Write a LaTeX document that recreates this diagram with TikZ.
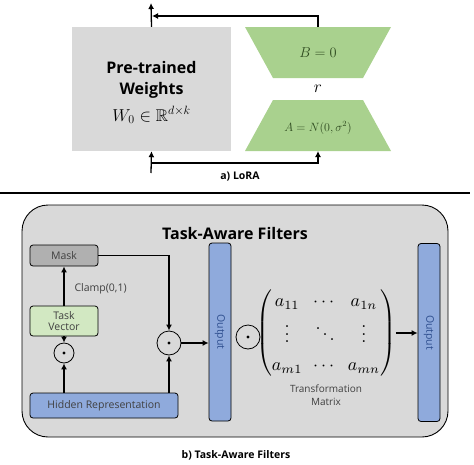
\documentclass[tikz,border=0pt]{standalone}
\usepackage{amsmath,amssymb}
\usepackage{fontspec}
\usepackage{tikz}
\usetikzlibrary{arrows.meta}
\newfontfamily\osans{Open Sans}
\definecolor{panelgray}{HTML}{D9D9D9}
\definecolor{maskgray}{HTML}{B0B0B0}
\definecolor{lgreen}{HTML}{A9D18E}
\definecolor{tvgreen}{HTML}{D2E8C2}
\definecolor{hblue}{HTML}{8FAADC}
\definecolor{oblue}{HTML}{2F4F8F}
\definecolor{dgreen}{HTML}{2E4A1F}
\definecolor{txtgray}{HTML}{404040}

\begin{document}
\begin{tikzpicture}[x=1pt,y=-1pt,
	arr/.style={-{Latex[length=6pt,width=6pt]},line width=1.3pt},
	box/.style={draw=black,line width=0.8pt,rounded corners=3pt,inner sep=0pt,font=\osans\fontsize{10.5}{12}\selectfont,text=txtgray,align=center},
	outbar/.style={box,fill=hblue,minimum width=22pt,minimum height=178pt},
	odotnode/.style={shape=circle,draw=black,line width=0.8pt,inner sep=0pt,minimum size=#1,
		path picture={\fill (path picture bounding box.center) circle (1.6pt);}}]
	\useasboundingbox (0,0) rectangle (474,464);
	% a) LoRA
	\node[fill=panelgray,minimum width=159pt,minimum height=124pt,inner sep=0pt] (pw) at (151.5,89) {};
	\node[font=\osans\bfseries\fontsize{16}{18}\selectfont] (pwtxt) at (151.5,67) {Pre-trained};
	\node[font=\osans\bfseries\fontsize{16}{18}\selectfont] (pwtxt2) at (151.5,90) {Weights};
	\node[font=\fontsize{17}{20}\selectfont] (w0) at (151.5,115) {$W_0\in\mathbb{R}^{d\times k}$};
	\fill[lgreen] (245,27) -- (391,27) -- (363,78) -- (273,78) -- cycle;
	\fill[lgreen] (273,100) -- (363,100) -- (391,151) -- (245,151) -- cycle;
	\node[text=dgreen,font=\fontsize{15}{18}\selectfont] (B) at (318,53) {$B=0$};
	\node[font=\fontsize{16}{18}\selectfont] (r) at (318,89) {$r$};
	\node[text=dgreen,font=\fontsize{12}{14}\selectfont] (A) at (318,128) {$A=N(0,\sigma^2)$};
	\coordinate (Btop) at (318,27);
	\coordinate (Abot) at (318,151);
	\coordinate (outtop) at (151,3);
	\coordinate (merge) at (151,16);
	\coordinate (intop) at (151,173);
	\coordinate (split) at (151,163);
	\draw[arr] (pw.north) -- (outtop);
	\draw[arr,shorten >=1pt] (Btop) |- (merge);
	\draw[arr] (intop) -- (pw.south);
	\draw[arr] (split) -| (Abot);
	\node[font=\osans\bfseries\fontsize{10.5}{12}\selectfont] (capa) at (240,177) {a) LoRA};
	\coordinate (sepl) at (0,193);
	\coordinate (sepr) at (470,193);
	\draw[line width=2.5pt] (sepl) -- (sepr);
	% b) Task-Aware Filters
	\node[draw=black,line width=0.9pt,fill=panelgray,rounded corners=26pt,minimum width=426pt,minimum height=232pt] (panel) at (235,321) {};
	\node[font=\osans\bfseries\fontsize{16}{18}\selectfont] (title) at (235,233) {Task-Aware Filters};
	\node[box,fill=maskgray,minimum width=68pt,minimum height=21pt] (mask) at (64,255.5) {Mask};
	\node[box,fill=tvgreen,minimum width=68pt,minimum height=30pt,font=\osans\fontsize{10.5}{11.5}\selectfont] (tv) at (64,321) {Task\\Vector};
	\node[box,fill=hblue,minimum width=148pt,minimum height=25pt] (hid) at (104,405.5) {Hidden Representation};
	\node[odotnode=20pt] (od1) at (64,353) {};
	\node[odotnode=24pt] (od2) at (169,343) {};
	\node[outbar,text=oblue] (out1) at (220,332) {\rotatebox{-90}{Output}};
	\node[odotnode=24pt] (od3) at (248,337) {};
	\node[inner sep=0pt] (mat) at (326,333) {\setlength\arraycolsep{3pt}\renewcommand\arraystretch{1.3}\scalebox{1.8}{$\begin{pmatrix} a_{11} & \cdots & a_{1n}\\ \vdots & \ddots & \vdots\\ a_{m1} & \cdots & a_{mn}\end{pmatrix}$}};
	\node[font=\osans\fontsize{10}{13.5}\selectfont,text=txtgray,align=center] (matlbl) at (326,395) {Transformation\\Matrix};
	\node[outbar,text=oblue] (out2) at (429,332.5) {\rotatebox{-90}{Output}};
	\node[font=\osans\fontsize{10.5}{12}\selectfont,text=txtgray,anchor=west] (clamp) at (71,289) {Clamp(0,1)};
	\draw[arr] (tv.north) -- (mask.south);
	\draw[arr] (tv.south) -- (od1.north);
	\draw[arr] (od1 |- hid.north) -- (od1.south);
	\draw[arr] (mask.east) -| (od2.north);
	\draw[arr] (od2 |- hid.north) -- (od2.south);
	\draw[arr] (od2.east) -- (od2 -| out1.west);
	\draw[arr] (mat.east) -- (mat.east -| out2.west);
	\node[font=\osans\bfseries\fontsize{10.5}{12}\selectfont] (capb) at (236,455) {b) Task-Aware Filters};
\end{tikzpicture}
\end{document}
